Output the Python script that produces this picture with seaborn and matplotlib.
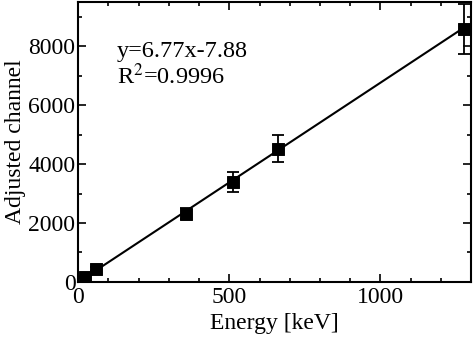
import numpy as np
import pandas as pd
import seaborn as sns
import matplotlib
matplotlib.use("Agg")
import matplotlib.pyplot as plt
from matplotlib.ticker import MultipleLocator

energy = [22, 59.5, 356, 511, 662, 1275]
channel = [160, 430, 2320, 3390, 4520, 8590]
error = [40, 60, 200, 330, 450, 840]
slope, intercept = 6.77, -7.88
eq_text = "y=6.77x-7.88\nR$^2$=0.9996"

sns.set_theme(style="ticks")
plt.rcParams['font.family'] = ['Liberation Serif', 'DejaVu Serif']
plt.rcParams['mathtext.fontset'] = 'stix'
plt.rcParams['text.color'] = 'black'
plt.rcParams['axes.labelcolor'] = 'black'

df = pd.DataFrame({"Energy": energy, "Channel": channel, "Err": error})

fig = plt.figure(figsize=(4.74, 3.38), dpi=100)
ax = fig.add_axes([0.165, 0.166, 0.829, 0.828])

xfit = np.array([min(energy), max(energy)])
ax.plot(xfit, slope * xfit + intercept, color="black", lw=1.5, zorder=2)
ax.errorbar(df["Energy"], df["Channel"], yerr=df["Err"], fmt="none",
            ecolor="black", elinewidth=1.3, capsize=4.5, capthick=1.3, zorder=3)
sns.scatterplot(data=df, x="Energy", y="Channel", marker="s", s=70,
                color="black", edgecolor="black", ax=ax, zorder=4)

ax.set_xlim(0, 1300)
ax.set_ylim(0, 9500)
ax.xaxis.set_major_locator(MultipleLocator(500))
ax.xaxis.set_minor_locator(MultipleLocator(100))
ax.yaxis.set_major_locator(MultipleLocator(2000))
ax.yaxis.set_minor_locator(MultipleLocator(1000))
ax.tick_params(which="both", direction="in", top=True, right=True,
               labelsize=17, width=1.2, colors="black")
ax.tick_params(axis="x", pad=4)
ax.tick_params(axis="y", pad=2)
ax.tick_params(which="major", length=6)
ax.tick_params(which="minor", length=3)
for s in ax.spines.values():
    s.set_linewidth(1.5)
    s.set_color("black")

ax.set_xlabel("Energy [keV]", fontsize=17, labelpad=3)
ax.set_ylabel("Adjusted channel", fontsize=17, labelpad=2)

ax.text(0.098, 0.86, eq_text, transform=ax.transAxes, fontsize=17.5,
        va="top", ha="left", linespacing=1.05)

fig.savefig("out.png", dpi=100)
